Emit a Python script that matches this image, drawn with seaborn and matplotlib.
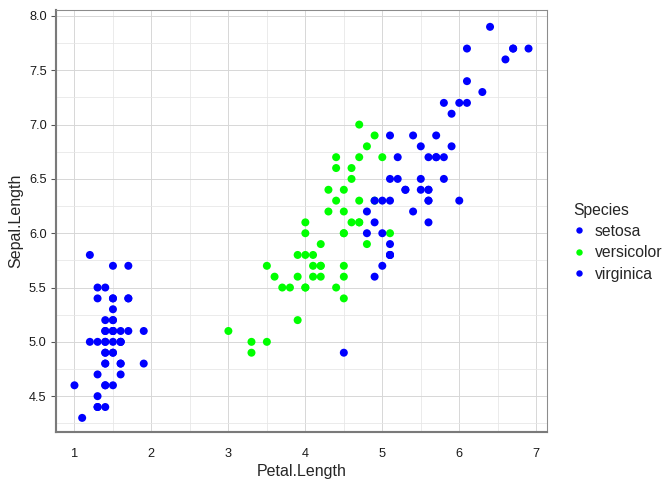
import numpy as np
import pandas as pd
import matplotlib
matplotlib.use("Agg")
import matplotlib.pyplot as plt
import seaborn as sns
from matplotlib.ticker import MultipleLocator

# iris: Petal.Length vs Sepal.Length
setosa_petal = [1.4, 1.4, 1.3, 1.5, 1.4, 1.7, 1.4, 1.5, 1.4, 1.5, 1.5, 1.6, 1.4, 1.1, 1.2, 1.5, 1.3,
                1.4, 1.7, 1.5, 1.7, 1.5, 1.0, 1.7, 1.9, 1.6, 1.6, 1.5, 1.4, 1.6, 1.6, 1.5, 1.5, 1.4,
                1.5, 1.2, 1.3, 1.4, 1.3, 1.5, 1.3, 1.3, 1.3, 1.6, 1.9, 1.4, 1.6, 1.4, 1.5, 1.4]
setosa_sepal = [5.1, 4.9, 4.7, 4.6, 5.0, 5.4, 4.6, 5.0, 4.4, 4.9, 5.4, 4.8, 4.8, 4.3, 5.8, 5.7, 5.4,
                5.1, 5.7, 5.1, 5.4, 5.1, 4.6, 5.1, 4.8, 5.0, 5.0, 5.2, 5.2, 4.7, 4.8, 5.4, 5.2, 5.5,
                4.9, 5.0, 5.5, 4.9, 4.4, 5.1, 5.0, 4.5, 4.4, 5.0, 5.1, 4.8, 5.1, 4.6, 5.3, 5.0]
versicolor_petal = [4.7, 4.5, 4.9, 4.0, 4.6, 4.5, 4.7, 3.3, 4.6, 3.9, 3.5, 4.2, 4.0, 4.7, 3.6, 4.4, 4.5,
                    4.1, 4.5, 3.9, 4.8, 4.0, 4.9, 4.7, 4.3, 4.4, 4.8, 5.0, 4.5, 3.5, 3.8, 3.7, 3.9, 5.1,
                    4.5, 4.5, 4.7, 4.4, 4.1, 4.0, 4.4, 4.6, 4.0, 3.3, 4.2, 4.2, 4.2, 4.3, 3.0, 4.1]
versicolor_sepal = [7.0, 6.4, 6.9, 5.5, 6.5, 5.7, 6.3, 4.9, 6.6, 5.2, 5.0, 5.9, 6.0, 6.1, 5.6, 6.7, 5.6,
                    5.8, 6.2, 5.6, 5.9, 6.1, 6.3, 6.1, 6.4, 6.6, 6.8, 6.7, 6.0, 5.7, 5.5, 5.5, 5.8, 6.0,
                    5.4, 6.0, 6.7, 6.3, 5.6, 5.5, 5.5, 6.1, 5.8, 5.0, 5.6, 5.7, 5.7, 6.2, 5.1, 5.7]
virginica_petal = [6.0, 5.1, 5.9, 5.6, 5.8, 6.6, 4.5, 6.3, 5.8, 6.1, 5.1, 5.3, 5.5, 5.0, 5.1, 5.3, 5.5,
                   6.7, 6.9, 5.0, 5.7, 4.9, 6.7, 4.9, 5.7, 6.0, 4.8, 4.9, 5.6, 5.8, 6.1, 6.4, 5.6, 5.1,
                   5.6, 6.1, 5.6, 5.5, 4.8, 5.4, 5.6, 5.1, 5.1, 5.9, 5.7, 5.2, 5.0, 5.2, 5.4, 5.1]
virginica_sepal = [6.3, 5.8, 7.1, 6.3, 6.5, 7.6, 4.9, 7.3, 6.7, 7.2, 6.5, 6.4, 6.8, 5.7, 5.8, 6.4, 6.5,
                   7.7, 7.7, 6.0, 6.9, 5.6, 7.7, 6.3, 6.7, 7.2, 6.2, 6.1, 6.4, 7.2, 7.4, 7.9, 6.4, 6.3,
                   6.1, 7.7, 6.3, 6.4, 6.0, 6.9, 6.7, 6.9, 5.8, 6.8, 6.7, 6.7, 6.3, 6.5, 6.2, 5.9]

species = ["setosa", "versicolor", "virginica"]
colors = {"setosa": "#0000FF", "versicolor": "#00FF00", "virginica": "#0000FF"}

df = pd.DataFrame({
    "Petal.Length": setosa_petal + versicolor_petal + virginica_petal,
    "Sepal.Length": setosa_sepal + versicolor_sepal + virginica_sepal,
    "Species": ["setosa"] * 50 + ["versicolor"] * 50 + ["virginica"] * 50,
})

sns.set_theme(style="white")
plt.rcParams["font.family"] = ["Liberation Sans", "DejaVu Sans"]

fig = plt.figure(figsize=(7, 5), dpi=96)
ax = fig.add_axes([56 / 672, 1 - 432 / 480, (547 - 56) / 672, (432 - 10) / 480])

sns.scatterplot(data=df, x="Petal.Length", y="Sepal.Length", hue="Species",
                hue_order=species, palette=colors, s=36, linewidth=0, ax=ax, zorder=3)

ax.set_xlim(0.76, 7.14)
ax.set_ylim(4.17, 8.055)
ax.xaxis.set_major_locator(MultipleLocator(1))
ax.xaxis.set_minor_locator(MultipleLocator(0.5))
ax.yaxis.set_major_locator(MultipleLocator(0.5))
ax.yaxis.set_minor_locator(MultipleLocator(0.25))
ax.set_yticks(ax.get_yticks())
ax.set_yticklabels([f"{v:.1f}" for v in ax.get_yticks()])
ax.set_ylim(4.17, 8.055)

ax.grid(which="major", color="#d6d6d6", linewidth=0.7)
ax.grid(which="minor", color="#e6e6e6", linewidth=0.6)
ax.set_axisbelow(True)

for side in ["top", "right"]:
    ax.spines[side].set_color("#8c8c8c")
    ax.spines[side].set_linewidth(0.8)
for side in ["left", "bottom"]:
    ax.spines[side].set_color("#7a7a7a")
    ax.spines[side].set_linewidth(1.6)

ax.tick_params(axis="y", which="major", left=True, length=4, width=0.8, color="#555555",
               labelsize=9.6, labelcolor="#1a1a1a", pad=3)
ax.tick_params(axis="x", which="major", bottom=False, labelsize=9.6, labelcolor="#1a1a1a", pad=6)
ax.tick_params(which="minor", left=False, bottom=False)

ax.set_xlabel("Petal.Length", fontsize=12, labelpad=3)
ax.set_ylabel("Sepal.Length", fontsize=12, labelpad=4)

leg = ax.legend(title="Species", loc="center left", bbox_to_anchor=(1.04, 0.45),
                frameon=False, fontsize=11.8, title_fontsize=11.8, markerscale=0.8,
                handlelength=0.8, handletextpad=0.6, labelspacing=0.4, borderaxespad=0)
leg._legend_box.align = "left"

fig.savefig("out.png", dpi=96)
